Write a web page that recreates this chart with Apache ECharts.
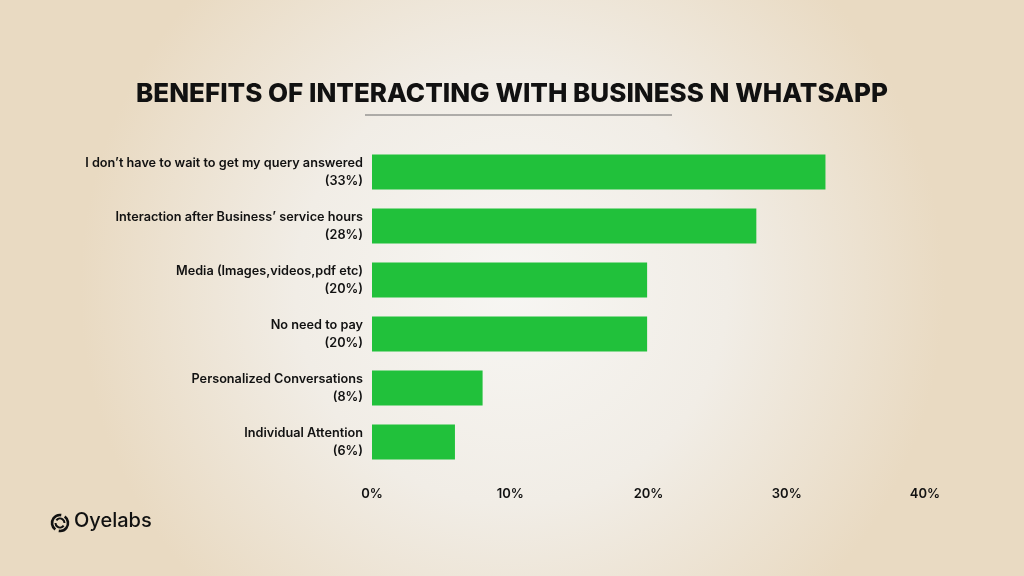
<!DOCTYPE html>
<html>
<head>
<meta charset="utf-8">
<script src="https://cdn.jsdelivr.net/npm/echarts@6/dist/echarts.min.js"></script>
<style>
html,body{margin:0;padding:0;}
#c{width:1024px;height:576px;}
</style>
</head>
<body>
<div id="c"></div>
<script>
const titleText = 'BENEFITS OF INTERACTING WITH BUSINESS N WHATSAPP';
const categories = [
  'I don\u2019t have to wait to get my query answered',
  'Interaction after Business\u2019 service hours',
  'Media (Images,videos,pdf etc)',
  'No need to pay',
  'Personalized Conversations',
  'Individual Attention'
];
const pctLabels = ['(33%)', '(28%)', '(20%)', '(20%)', '(8%)', '(6%)'];
const values = [32.8, 27.8, 19.9, 19.9, 8.0, 6.0];
const xTicks = [0, 10, 20, 30, 40];
const brand = 'Oyelabs';

const labelled = categories.map((c, i) => c + '\n' + pctLabels[i]);

const chart = echarts.init(document.getElementById('c'));
chart.setOption({
  backgroundColor: {
    type: 'radial', x: 0.5, y: 0.5, r: 0.75,
    colorStops: [
      {offset: 0, color: '#f7f6f3'},
      {offset: 0.5, color: '#f1ede6'},
      {offset: 1, color: '#e9dac2'}
    ]
  },
  animation: false,
  title: {
    text: titleText,
    left: 'center',
    top: 76,
    textStyle: {fontFamily: 'Inter', fontWeight: 800, fontSize: 26, color: '#111', letterSpacing: -0.75}
  },
  grid: {left: 372, right: 99, top: 145, bottom: 107, containLabel: false},
  xAxis: {
    type: 'value', min: xTicks[0], max: xTicks[xTicks.length - 1], interval: 10,
    axisLine: {show: false}, axisTick: {show: false}, splitLine: {show: false},
    axisLabel: {formatter: '{value}%', margin: 19, fontFamily: 'Inter', fontWeight: 600, fontSize: 13, color: '#111'}
  },
  yAxis: {
    type: 'category', inverse: true, data: labelled,
    axisLine: {show: false}, axisTick: {show: false},
    axisLabel: {margin: 9, fontFamily: 'Inter', fontWeight: 600, fontSize: 12.7, color: '#111', lineHeight: 18, align: 'right'}
  },
  series: [{
    type: 'bar', data: values, barCategoryGap: '35%',
    itemStyle: {color: '#21c13b'}
  }],
  graphic: [
    {type: 'line', shape: {x1: 365, y1: 115, x2: 672, y2: 115}, style: {stroke: '#6b6b6b', lineWidth: 1}},
    {type: 'arc', shape: {cx: 60, cy: 523, r: 8, startAngle: Math.PI * 0.7, endAngle: Math.PI * 1.55}, style: {stroke: '#111', lineWidth: 2.6, fill: null}},
    {type: 'arc', shape: {cx: 60, cy: 523, r: 8, startAngle: Math.PI * 1.7, endAngle: Math.PI * 2.55}, style: {stroke: '#111', lineWidth: 2.6, fill: null}},
    {type: 'arc', shape: {cx: 60, cy: 523, r: 4.5, startAngle: Math.PI * 0.2, endAngle: Math.PI * 1.0}, style: {stroke: '#111', lineWidth: 2, fill: null}},
    {type: 'arc', shape: {cx: 60, cy: 523, r: 4.5, startAngle: Math.PI * 1.2, endAngle: Math.PI * 2.0}, style: {stroke: '#111', lineWidth: 2, fill: null}},
    {type: 'text', left: 74, top: 511, style: {text: brand, font: '500 20px Inter', fill: '#111'}}
  ]
});
</script>
</body>
</html>
